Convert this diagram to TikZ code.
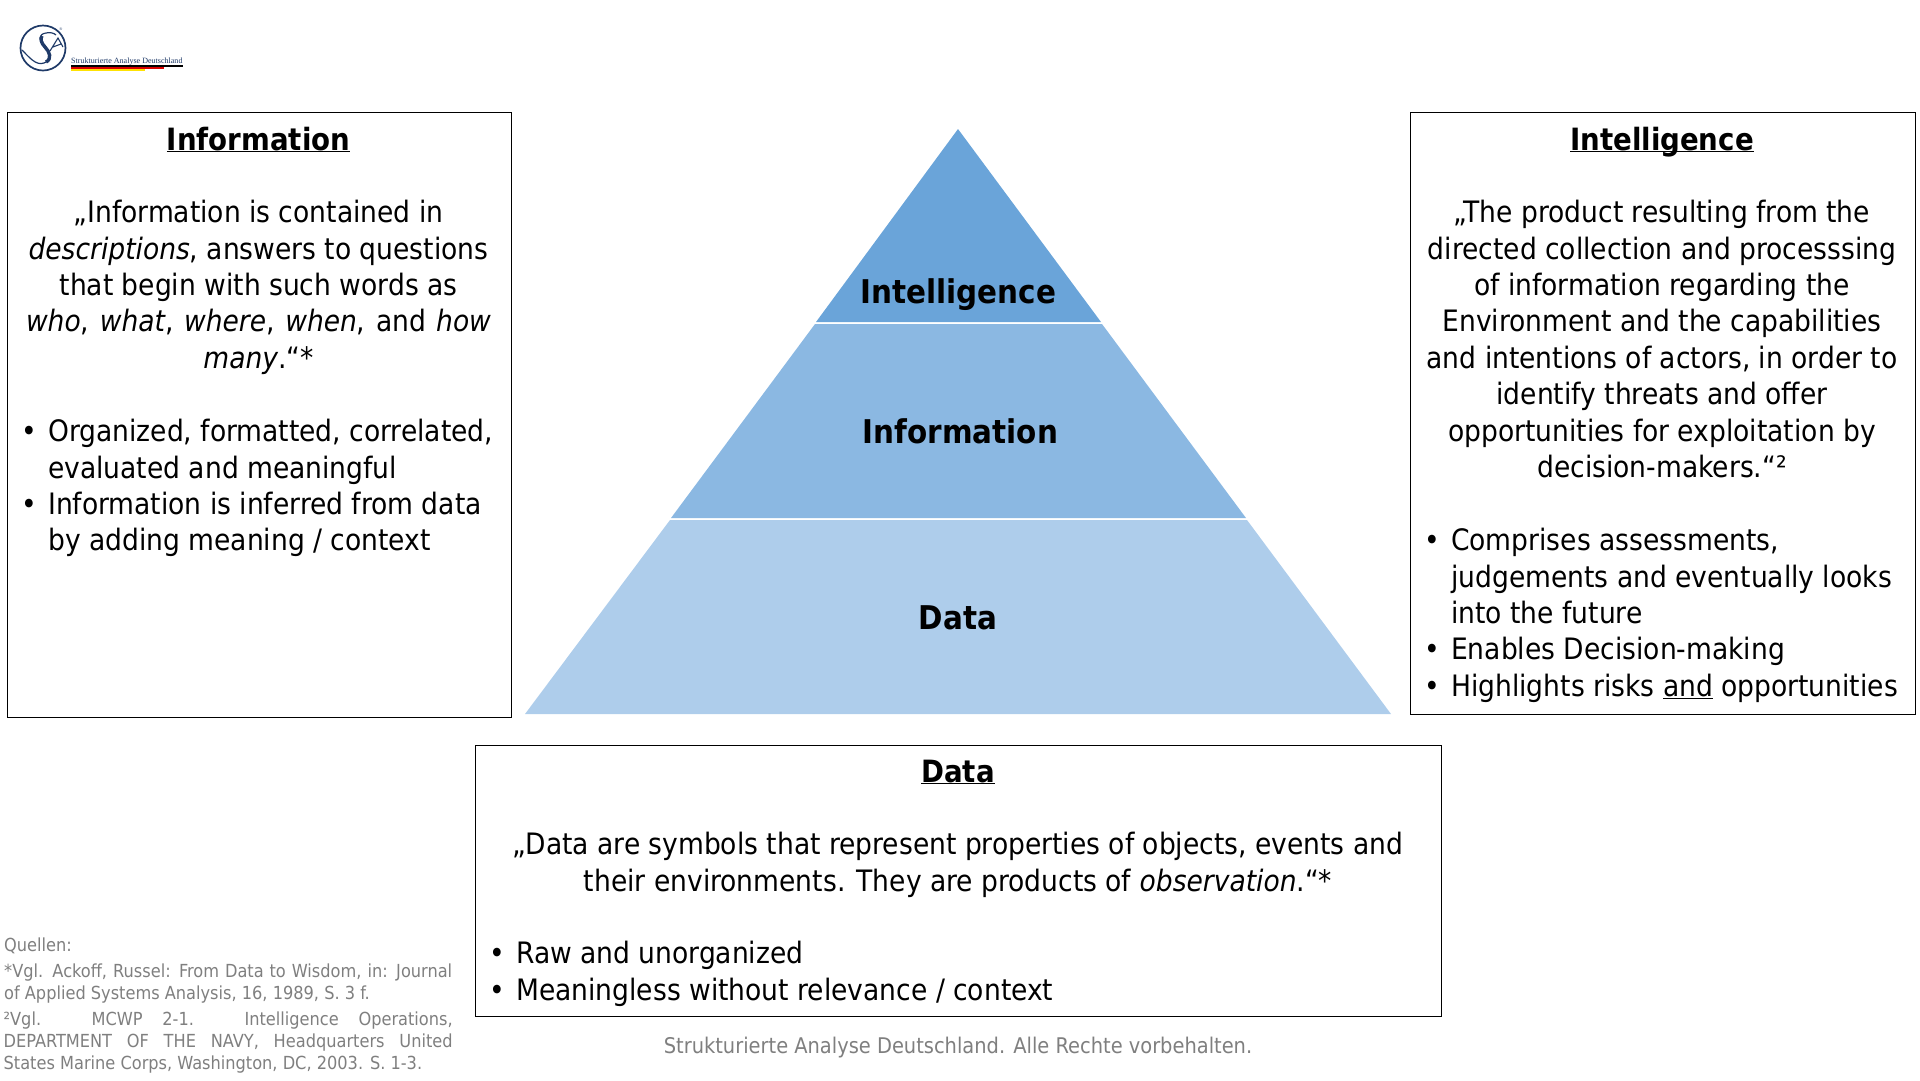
\documentclass[tikz,border=0pt]{standalone}
\usepackage{fontspec}
\setmainfont{DejaVu Sans Condensed}
\newfontfamily\logofont{Liberation Serif}
\definecolor{pyrtop}{HTML}{6AA4D9}
\definecolor{pyrmid}{HTML}{8BB8E2}
\definecolor{pyrlow}{HTML}{AECDEB}
\definecolor{srcgray}{HTML}{7F7F7F}
\definecolor{logoblue}{HTML}{1F3A68}
\newcommand{\bodyfont}{\fontsize{29.5}{36.4}\selectfont}
\newcommand{\srcfont}{\fontsize{18}{22}\selectfont}
\newcommand{\bul}{\makebox[27pt][l]{•}}
\newcommand{\ind}{\hspace*{27pt}}
\newcommand{\jl}[1]{\makebox[449pt][s]{#1}}
\newcommand{\headul}[1]{\underline{\smash{#1}}}
\tikzset{x=1pt,y=-1pt,
 textbox/.style={draw=black,line width=0.9pt,fill=white,anchor=north west,inner sep=0pt},
 head/.style={anchor=base,inner sep=0pt,font=\fontsize{30.7}{36}\selectfont\bfseries},
 para/.style={anchor=north,align=center,inner sep=0pt,font=\bodyfont},
 bullets/.style={anchor=north west,align=left,inner sep=0pt,font=\bodyfont},
 tier/.style={anchor=base,inner sep=0pt,font=\fontsize{32.7}{36}\selectfont\bfseries},
 src/.style={anchor=north west,align=left,inner sep=0pt,text=srcgray,font=\srcfont}}
\begin{document}
\begin{tikzpicture}
\useasboundingbox (0,0) rectangle (1920,1080);
% logo
\draw[logoblue,line width=1.7pt] (43,48) circle (22.5);
\draw[logoblue,line width=1.2pt] (22,50) .. controls (29,57) and (36,66) .. (44,63) .. controls (52,60) and (50,52) .. (45,47) .. controls (39,41) and (38,34) .. (46,33) .. controls (50,32) and (54,33) .. (56,35);
\draw[logoblue,line width=3.4pt] (46,62) .. controls (52,59) and (50,52) .. (45,47) .. controls (41,43) and (40,38) .. (42,36);
\draw[logoblue,line width=1.1pt] (50,51) -- (58,38) -- (63,47) (53,47) -- (61,44);
\node[inner sep=0pt,text=logoblue,font=\logofont\fontsize{4}{4}\selectfont] (logor) at (61,29) {®};
\node[anchor=base west,inner sep=0pt,text=logoblue,font=\logofont\fontsize{8.05}{9}\selectfont] (logot) at (71,63) {Strukturierte Analyse Deutschland};
\fill[black] (71,65) rectangle (183,66.5);
\fill[red!85!black] (71,67) rectangle (164,68.5);
\fill[yellow!85!orange] (71,69) rectangle (145,71);
% pyramid
\fill[pyrlow] (670,520) -- (1247,520) -- (1391,714) -- (525,714) -- cycle;
\fill[pyrmid] (815,324) -- (1102,324) -- (1246,518) -- (671,518) -- cycle;
\fill[pyrtop] (958,129) -- (1101,322) -- (816,322) -- cycle;
\node[tier] (tI) at (958.5,303) {Intelligence};
\node[tier] (tM) at (960.5,443) {Information};
\node[tier] (tD) at (958,629) {Data};
% information
\node[textbox,minimum width=504pt,minimum height=605pt] (boxa) at (6.5,112) {};
\node[head] (ha) at (258.5,150) {\headul{Information}};
\node[para] (pa) at (258.5,200) {„Information is contained in\\\textit{descriptions}, answers to questions\\that begin with such words as\\\makebox[465pt][s]{\textit{who}, \textit{what}, \textit{where}, \textit{when}, and \textit{how}}\\\textit{many}.“*};
\node[bullets] (ba) at (21,419) {\bul Organized, formatted, correlated,\\\ind evaluated and meaningful\\\bul Information is inferred from data\\\ind by adding meaning / context};
% intelligence
\node[textbox,minimum width=505pt,minimum height=602pt] (boxb) at (1410,112) {};
\node[head] (hb) at (1662,150) {\headul{Intelligence}};
\node[para] (pb) at (1662,200) {„The product resulting from the\\directed collection and processsing\\of information regarding the\\Environment and the capabilities\\and intentions of actors, in order to\\identify threats and offer\\opportunities for exploitation by\\decision-makers.“²};
\node[bullets] (bb) at (1424,528) {\bul Comprises assessments,\\\ind judgements and eventually looks\\\ind into the future\\\bul Enables Decision-making\\\bul Highlights risks \underline{and} opportunities};
% data
\node[textbox,minimum width=966pt,minimum height=271pt] (boxc) at (475,745) {};
\node[head] (hc) at (958,782) {\headul{Data}};
\node[para] (pc) at (958,832) {„Data are symbols that represent properties of objects, events and\\their environments. They are products of \textit{observation}.“*};
\node[bullets] (bc) at (489,941) {\bul Raw and unorganized\\\bul Meaningless without relevance / context};
% sources
\node[src] (s0) at (4,938) {Quellen:};
\node[src] (s1) at (4,963.5) {\makebox[448pt][s]{*Vgl. Ackoff, Russel: From Data to Wisdom, in: Journal}\\of Applied Systems Analysis, 16, 1989, S. 3 f.};
\node[src] (s2) at (3.5,1012) {\jl{²Vgl. MCWP 2-1. Intelligence Operations,}\\\jl{DEPARTMENT OF THE NAVY, Headquarters United}\\States Marine Corps, Washington, DC, 2003. S. 1-3.};
\node[inner sep=0pt,text=srcgray,font=\fontsize{21.6}{24}\selectfont] (foot) at (958,1048) {Strukturierte Analyse Deutschland. Alle Rechte vorbehalten.};
\end{tikzpicture}
\end{document}
